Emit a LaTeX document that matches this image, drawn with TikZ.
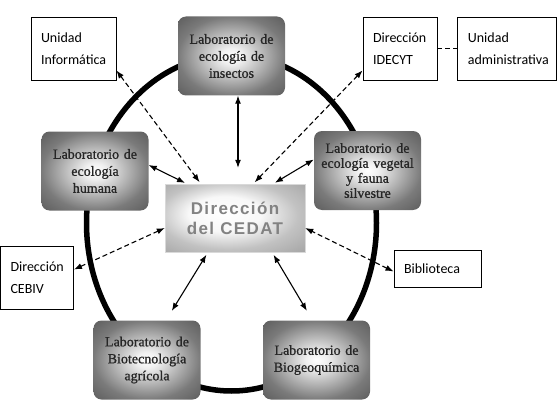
\documentclass[tikz,border=0pt]{standalone}
\usepackage{fontspec}
\newfontfamily\unitfont{Carlito}
\newfontfamily\labfont[FakeBold=1]{Liberation Serif}
\newfontfamily\cedatfont[LetterSpace=8]{Liberation Sans}
\usetikzlibrary{shapes,arrows.meta,positioning}
\definecolor{cedatgray}{RGB}{130,130,130}
\pgfdeclareradialshading{labshade}{\pgfpoint{0bp}{0bp}}{color(0bp)=(white); color(5bp)=(white!94!black); color(25bp)=(black!52); color(36bp)=(black!64); color(50bp)=(black!64)}
\pgfdeclareradialshading{cedatshade}{\pgfpoint{-5bp}{4bp}}{color(0bp)=(white); color(13bp)=(white!97!black); color(25bp)=(black!24); color(40bp)=(black!38); color(50bp)=(black!38)}
\tikzstyle{lab} = [rectangle, rounded corners=8pt, shading=labshade, 
    text width=100pt, align=center, inner sep=3.5pt, minimum height=79pt, 
    text=black!85, font=\labfont\fontsize{14}{17}\selectfont]
\tikzstyle{unit} = [rectangle, draw, line width=0.9pt, align=left, 
    inner xsep=10pt, minimum height=63pt, font=\unitfont\fontsize{14}{22}\selectfont]
\tikzstyle{cedat} = [rectangle, draw=black!15, shading=cedatshade, 
    minimum width=140pt, minimum height=68pt, text=cedatgray, align=center, 
    font=\cedatfont\bfseries\fontsize{17}{20}\selectfont]
\tikzstyle{line} = [draw, line width=1.1pt, {Latex[length=8pt,width=6pt]}-{Latex[length=8pt,width=6pt]}]
\tikzstyle{link} = [line, dash pattern=on 5pt off 3pt]
\tikzstyle{ring} = [draw, line width=5.5pt]

\begin{document}
\begin{tikzpicture}[x=1pt, y=-1pt]
    \useasboundingbox (0,0) rectangle (560,420);
    % Outer ring
    \draw [ring] (231.5,223) ellipse [x radius=145pt, y radius=168pt];
    % Place nodes
    \node [cedat] (cedat) at (235,218) {Dirección\\del CEDAT};
    \node [lab] (insectos) at (231.5,56) {Laboratorio de\\ecología de\\insectos};
    \node [lab] (humana) at (95,171) {Laboratorio de\\ecología\\humana};
    \node [lab, font=\labfont\fontsize{14}{15}\selectfont] (vegetal) at (367.5,170.5) {Laboratorio de\\ecología vegetal\\y fauna\\silvestre};
    \node [lab] (biotec) at (147,360) {Laboratorio de\\Biotecnología\\agrícola};
    \node [lab] (biogeo) at (316.5,360) {Laboratorio de\\Biogeoquímica};
    \node [unit, text width=65pt] (info) at (73.5,48.5) {Unidad\\Informática};
    \node [unit, text width=54pt] (idecyt) at (400,48.5) {Dirección\\IDECYT};
    \node [unit, text width=79pt, right=20pt of idecyt] (admin) {Unidad\\administrativa};
    \node [unit, text width=53pt] (cebiv) at (37,277.5) {Dirección\\CEBIV};
    \node [unit, text width=67pt, minimum height=37pt] (biblio) at (437.5,268.5) {Biblioteca};
    % Draw edges
    \path [line, shorten >=16pt] ([xshift=6.5pt]insectos.south) -- ([xshift=3pt]cedat.north);
    \path [line, shorten >=2pt] ([yshift=6pt]humana.east) -- ([xshift=22pt]cedat.north west);
    \path [line, shorten >=2pt] ([yshift=11pt]vegetal.west) -- ([xshift=-32pt]cedat.north east);
    \path [line, shorten <=11pt, shorten >=3pt] ([xshift=19pt]biotec.north) -- ([xshift=-27pt]cedat.south);
    \path [line, shorten <=11pt, shorten >=3pt] ([xshift=-4pt]biogeo.north) -- ([xshift=37pt]cedat.south);
    \path [link, shorten >=2pt] ([yshift=10pt]info.south east) -- ([xshift=36pt]cedat.north west);
    \path [link, shorten >=2pt] ([yshift=10pt]idecyt.south west) -- ([xshift=-52pt]cedat.north east);
    \path [link] ([yshift=8pt]cebiv.east) -- ([yshift=-10pt]cedat.west);
    \path [link] ([yshift=-3pt]biblio.west) -- ([yshift=-10pt]cedat.east);
    \draw [line width=1.1pt, dash pattern=on 5pt off 3pt] (idecyt) -- (admin);
\end{tikzpicture}
\end{document}
